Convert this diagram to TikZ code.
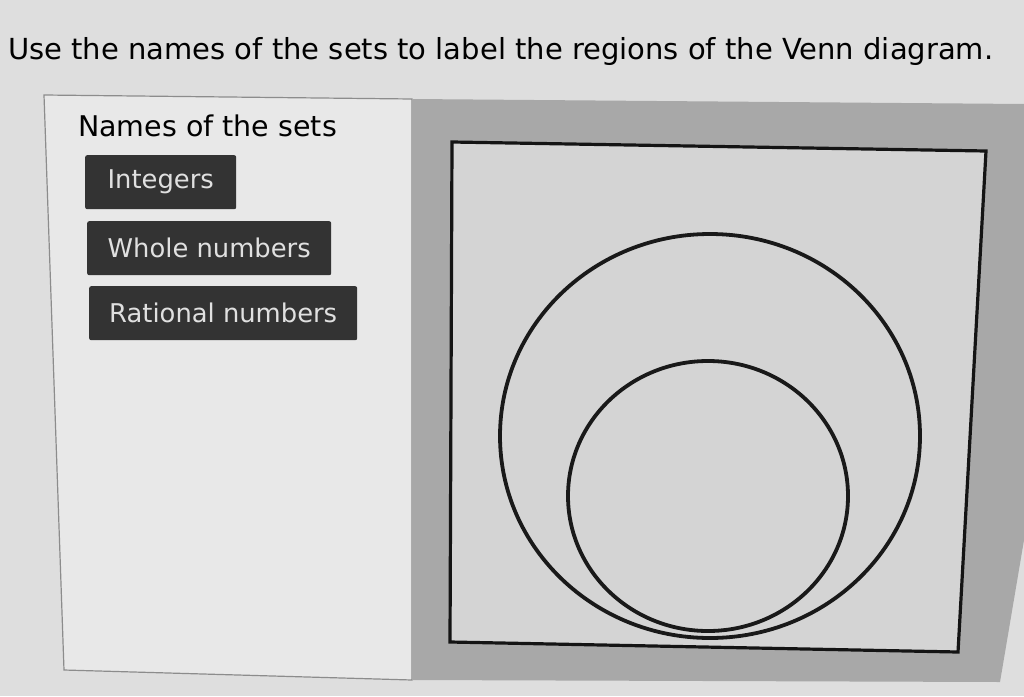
\documentclass[tikz,border=0pt]{standalone}
\usepackage{fontspec}
\setmainfont{DejaVu Sans}
\begin{document}
\begin{tikzpicture}[x=1pt,y=-1pt,
  btn/.style={fill=black!80, rounded corners=2pt, text=white!88!black, anchor=north west, inner sep=0pt, minimum height=54pt, font=\fontsize{25.8}{30}\selectfont},
  circ/.style={draw=black!90, line width=3.8pt},
]
\fill[black!13] (0,0) rectangle (1024,696);
\useasboundingbox (0,0) rectangle (1024,696);
% left panel
\filldraw[fill=black!9, draw=black!45, line width=1.2pt] (44,95) -- (412,99) -- (412,680) -- (64,670) -- cycle;
% right panel
\fill[black!34] (412,99) -- (1024,104) -- (1024,540) -- (1000,682) -- (412,680) -- cycle;
% inner box
\filldraw[fill=black!17, draw=black!92, line width=3.2pt] (452,142) -- (986,151) -- (958,652) -- (450,642) -- cycle;
% title
\node[anchor=base west, inner sep=0pt, font=\fontsize{29}{34}\selectfont] (title) at (8,59) {Use the names of the sets to label the regions of the Venn diagram.};
\node[anchor=base west, inner sep=0pt, font=\fontsize{28.5}{33}\selectfont] (head) at (78,136) {Names of the sets};
\node[btn, minimum width=151pt] (int) at (85,155) {Integers};
\node[btn, minimum width=244pt] (whole) at (87,221) {Whole numbers};
\node[btn, minimum width=268pt] (rat) at (89,286) {Rational numbers};
% circles
\draw[circ] (710,436) ellipse [x radius=210, y radius=202];
\draw[circ] (708,496) ellipse [x radius=140, y radius=135];
\end{tikzpicture}
\end{document}
